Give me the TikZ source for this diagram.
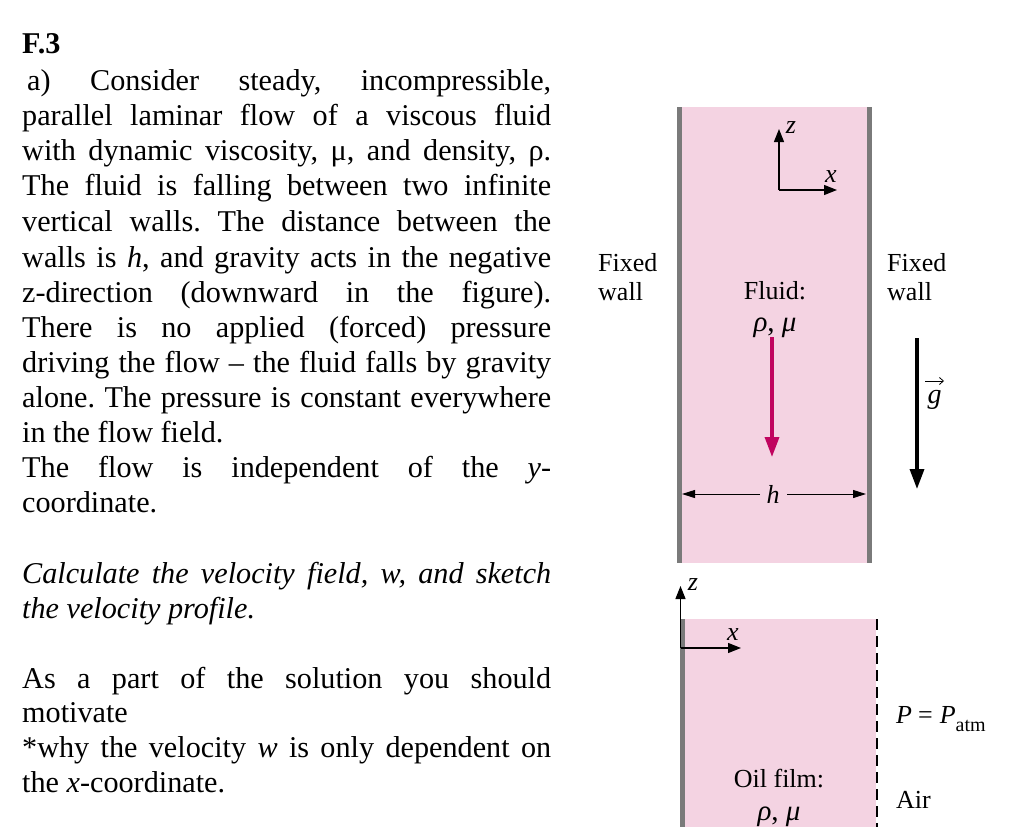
\documentclass[tikz,border=0pt]{standalone}
\usepackage{fontspec}
\setmainfont{Liberation Serif}
\usetikzlibrary{arrows.meta}
\definecolor{fluidpink}{HTML}{F4D3E2}
\definecolor{wallgray}{HTML}{7A7A7A}
\definecolor{flowred}{HTML}{C0045F}
\tikzset{
  body/.style={anchor=base west,inner sep=0pt,font=\fontsize{30.2}{35}\selectfont},
  lab/.style={anchor=base west,inner sep=0pt,font=\fontsize{26}{30}\selectfont},
  labc/.style={anchor=base,inner sep=0pt,font=\fontsize{26}{30}\selectfont},
  greek/.style={anchor=base,inner sep=0pt,font=\fontsize{29}{30}\selectfont},
  axis/.style={draw=black,line width=1.3pt,-{Triangle[length=13pt,width=10pt]}},
  dimline/.style={draw=black,line width=1pt,-{Triangle[length=13pt,width=8pt]}},
  bigarrow/.style={line width=3.4pt,-{Triangle[length=20pt,width=14pt]}},
  vecbar/.style={draw=black,line width=0.8pt,-{Straight Barb[length=4pt,width=7pt]}}
}
\frenchspacing
\newcommand{\jl}[1]{\makebox[529pt][s]{#1}}
\begin{document}
\begin{tikzpicture}[x=1pt,y=-1pt]
\useasboundingbox (0,0) rectangle (1024,827);
% left text
\node[body] (t0) at (22,53) {\textbf{F.3}};
\node[body] (t1) at (27,90) {\makebox[524pt][s]{a) Consider steady, incompressible,}};
\node[body] (t2) at (22,125) {\jl{parallel laminar flow of a viscous fluid}};
\node[body] (t3) at (22,160) {\jl{with dynamic viscosity, μ, and density, ρ.}};
\node[body] (t4) at (22,195) {\jl{The fluid is falling between two infinite}};
\node[body] (t5) at (22,231) {\jl{vertical walls. The distance between the}};
\node[body] (t6) at (22,267) {\jl{walls is \textit{h}, and gravity acts in the negative}};
\node[body] (t7) at (22,302) {\jl{z-direction (downward in the figure).}};
\node[body] (t8) at (22,337) {\jl{There is no applied (forced) pressure}};
\node[body] (t9) at (22,372) {\jl{driving the flow – the fluid falls by gravity}};
\node[body] (t10) at (22,407) {\jl{alone. The pressure is constant everywhere}};
\node[body] (t11) at (22,442) {in the flow field.};
\node[body] (t12) at (22,477) {\jl{The flow is independent of the \textit{y}-}};
\node[body] (t13) at (22,512) {coordinate.};
\node[body] (t14) at (22,583) {\jl{\textit{Calculate the velocity field, w, and sketch}}};
\node[body] (t15) at (22,618) {\textit{the velocity profile.}};
\node[body] (t16) at (22,688) {\jl{As a part of the solution you should}};
\node[body] (t17) at (22,722) {motivate};
\node[body] (t18) at (22,757) {\jl{*why the velocity \textit{w} is only dependent on}};
\node[body] (t19) at (22,792) {the \textit{x}-coordinate.};
% upper figure
\fill[fluidpink] (677,107) rectangle (872,563);
\fill[wallgray] (677,107) rectangle (682,563);
\fill[wallgray] (867,107) rectangle (872,563);
\coordinate (o1) at (779,190);
\coordinate (z1) at (779,129);
\coordinate (x1) at (837,190);
\draw[axis] (o1) -- (z1);
\draw[axis] (o1) -- (x1);
\node[labc] (zl1) at (791,133) {\textit{z}};
\node[labc] (xl1) at (831,182) {\textit{x}};
\node[lab] (fw1) at (598,271) {Fixed};
\node[lab] (ww1) at (598,300) {wall};
\node[lab] (fw2) at (887,271) {Fixed};
\node[lab] (ww2) at (887,300) {wall};
\node[labc] (fl) at (775,299) {Fluid:};
\node[greek] (rm1) at (775,331) {\textit{ρ}, \textit{μ}};
\coordinate (fa) at (772,337);
\coordinate (fb) at (772,457);
\draw[bigarrow,draw=flowred,fill=flowred] (fa) -- (fb);
\coordinate (ga) at (917,338);
\coordinate (gb) at (917,489);
\draw[bigarrow,draw=black,fill=black] (ga) -- (gb);
\node[anchor=base,inner sep=0pt,font=\fontsize{28}{30}\selectfont] (gl) at (934.5,403) {\textit{g}};
\coordinate (va) at (925,381);
\coordinate (vb) at (944,381);
\draw[vecbar] (va) -- (vb);
\node[labc] (hl) at (773,503) {\textit{h}};
\coordinate (hL) at (682,494);
\coordinate (hR) at (866,494);
\coordinate (hg1) at (760,494);
\coordinate (hg2) at (787,494);
\draw[dimline] (hg1) -- (hL);
\draw[dimline] (hg2) -- (hR);
% lower figure
\fill[fluidpink] (680,619) rectangle (876,827);
\fill[wallgray] (680,619) rectangle (684.5,827);
\coordinate (da) at (876.7,619);
\coordinate (db) at (876.7,827);
\draw[line width=1.7pt,dash pattern=on 11pt off 6pt] (da) -- (db);
\coordinate (o2) at (680.5,648);
\coordinate (z2) at (680.5,586);
\coordinate (x2) at (741,648);
\draw[axis] (o2) -- (z2);
\draw[axis] (o2) -- (x2);
\node[labc] (zl2) at (693,590) {\textit{z}};
\node[labc] (xl2) at (733,640) {\textit{x}};
\node[lab] (patm) at (896,723) {\textit{P}\hspace{6pt}=\hspace{7pt}\textit{P}\raisebox{-8pt}{\fontsize{20}{24}\selectfont atm}};
\node[labc] (oil) at (779,787) {Oil film:};
\node[greek] (rm2) at (779,820) {\textit{ρ}, \textit{μ}};
\node[lab] (air) at (896,808) {Air};
\end{tikzpicture}
\end{document}
